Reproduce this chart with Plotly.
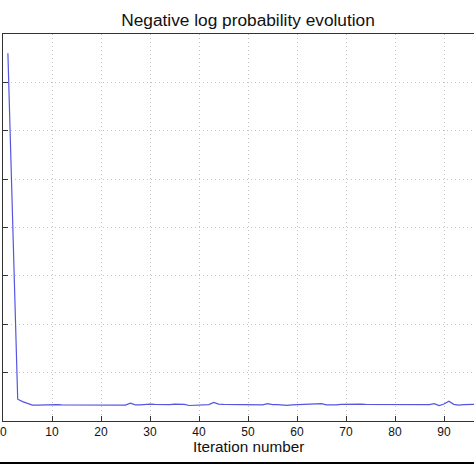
import plotly.graph_objects as go

iterations = list(range(1, 101))
neg_log_prob = [
    7.60, 4.03, 0.45, 0.40, 0.36, 0.33, 0.33, 0.335, 0.34, 0.345,
    0.34, 0.335, 0.335, 0.34, 0.345, 0.335, 0.33, 0.335, 0.34, 0.335,
    0.34, 0.335, 0.33, 0.34, 0.33, 0.37, 0.335, 0.335, 0.345, 0.35,
    0.345, 0.34, 0.345, 0.34, 0.35, 0.355, 0.345, 0.32, 0.325, 0.325,
    0.33, 0.34, 0.385, 0.35, 0.345, 0.345, 0.34, 0.345, 0.335, 0.33,
    0.34, 0.345, 0.335, 0.36, 0.34, 0.34, 0.33, 0.325, 0.335, 0.34,
    0.33, 0.335, 0.345, 0.345, 0.36, 0.335, 0.33, 0.335, 0.345, 0.35,
    0.355, 0.355, 0.35, 0.345, 0.345, 0.35, 0.345, 0.34, 0.34, 0.345,
    0.345, 0.34, 0.345, 0.345, 0.35, 0.345, 0.34, 0.36, 0.32, 0.35,
    0.41, 0.345, 0.33, 0.34, 0.345, 0.345, 0.35, 0.345, 0.345, 0.35,
]
x_ticks = list(range(0, 101, 10))
x_tick_text = [str(v) for v in x_ticks]
title_text = "Negative log probability evolution"
x_label = "Iteration number"

W, H = 474, 474
L, R, T, B = 3, 0, 34, 53
plot_h = H - T - B
plot_w = W - L - R

fig = go.Figure()
fig.add_trace(go.Scatter(
    x=iterations, y=neg_log_prob, mode="lines",
    line=dict(color="rgb(85,85,225)", width=1.2),
    showlegend=False, hoverinfo="skip",
))

axis_common = dict(
    showline=True, linecolor="#333333", linewidth=1,
    ticks="inside", ticklen=5, tickcolor="#333333",
    showgrid=True, gridcolor="#c4c4c4", griddash="1px,3px", gridwidth=1,
    zeroline=False,
)

fig.update_layout(
    width=W, height=H,
    margin=dict(l=L, r=R, t=T, b=B, pad=0),
    paper_bgcolor="white", plot_bgcolor="white",
    font=dict(family="Liberation Sans, Arial, sans-serif", color="#111111"),
    title=dict(text=title_text, x=248 / W, xanchor="center",
               y=1 - 19.5 / H, yanchor="middle", xref="container",
               yref="container", font=dict(size=17.3, color="#111111")),
    xaxis=dict(range=[0, (W - L) / 4.9], tickvals=x_ticks, ticktext=x_tick_text,
               mirror=True, tickfont=dict(size=12, color="#111111"), **axis_common),
    yaxis=dict(range=[0, 8], dtick=1, showticklabels=False, **axis_common),
    annotations=[
        dict(text=x_label, xref="paper", yref="paper",
             x=(248 - L) / plot_w, y=(421 - 446) / plot_h,
             xanchor="center", yanchor="middle", showarrow=False,
             font=dict(size=15.3, color="#111111")),
        dict(text=x_tick_text[0], xref="x", yref="paper",
             x=x_ticks[0], y=(421 - 431.5) / plot_h,
             xanchor="center", yanchor="middle", showarrow=False,
             font=dict(size=12, color="#111111")),
    ],
    shapes=[dict(
        type="line", xref="paper", yref="paper",
        x0=-L / plot_w, x1=1, y0=(421 - 463) / plot_h, y1=(421 - 463) / plot_h,
        line=dict(color="black", width=2),
    )],
)

fig.write_html("out.html")
